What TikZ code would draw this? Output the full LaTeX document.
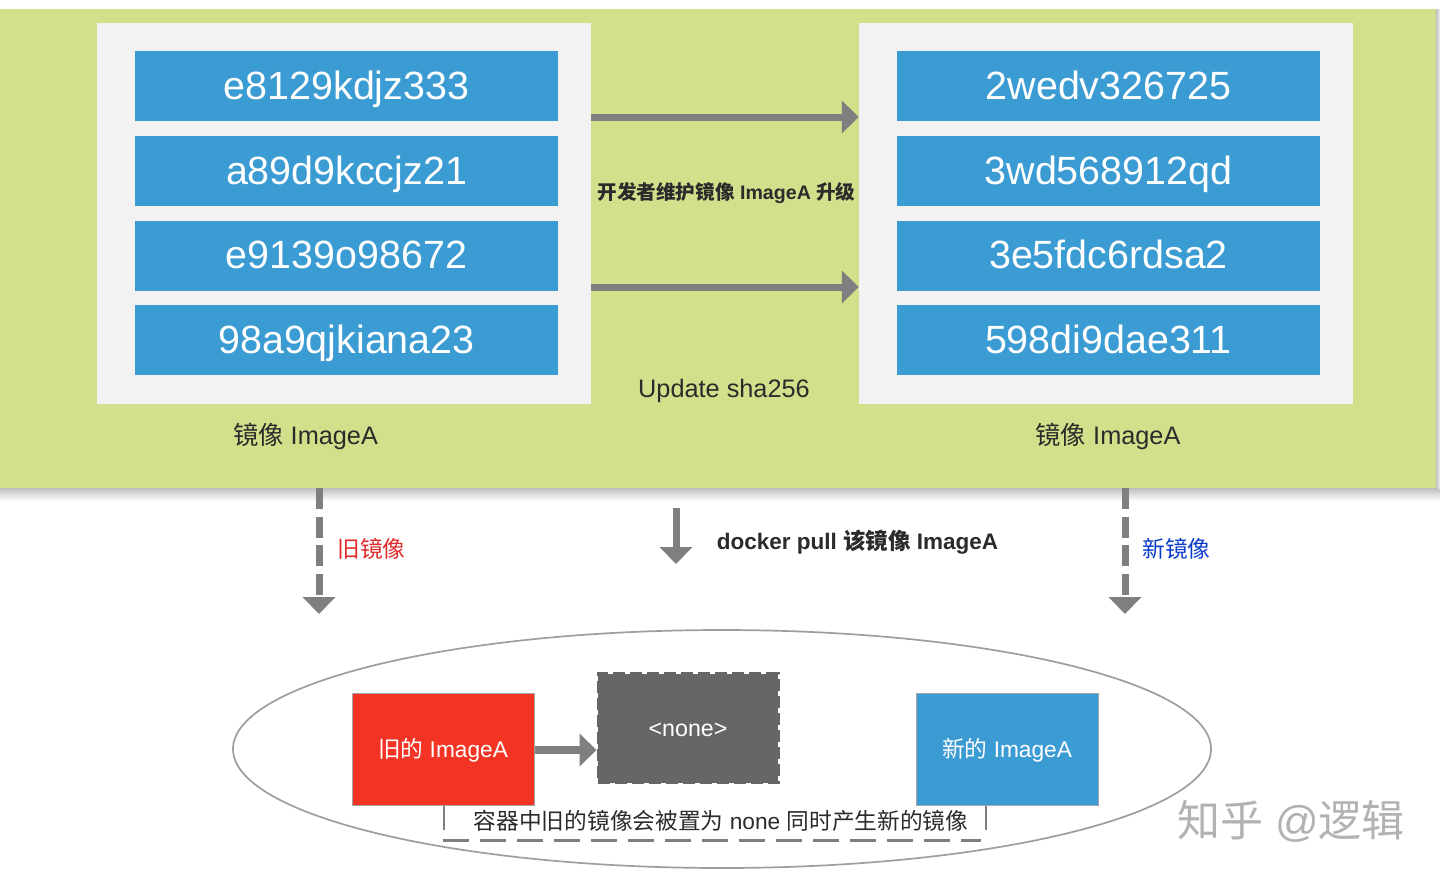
\documentclass[tikz,border=0pt]{standalone}
\usepackage{fontspec}
\setmainfont{Liberation Sans}
\newfontfamily\cjk{Noto Sans CJK SC}
\usetikzlibrary{arrows.meta,fadings}
\definecolor{greenbg}{HTML}{D3DF8B}
\definecolor{panelbg}{HTML}{F2F2F2}
\definecolor{rowblue}{HTML}{3B9BD3}
\definecolor{arrowgray}{HTML}{7F7F7F}
\definecolor{redbox}{HTML}{F33425}
\definecolor{nonegray}{HTML}{666666}
\definecolor{inktext}{HTML}{2B2B2B}
\definecolor{oldred}{HTML}{DF2A2A}
\definecolor{newblue}{HTML}{0B3DCB}
\tikzset{
  x=1pt,y=-1pt,
  panel/.style={rectangle,fill=panelbg,minimum width=494pt,minimum height=381pt,inner sep=0pt},
  rowbox/.style={rectangle,fill=rowblue,minimum width=423pt,minimum height=70pt,inner sep=0pt,text=white,text height=36pt,text depth=10pt,font=\fontsize{39.4}{40}\selectfont},
  label/.style={inner sep=0pt,text=inktext,text height=20pt,text depth=6pt,font=\fontsize{25.3}{30}\selectfont},
  boldlabel/.style={inner sep=0pt,text=inktext},
  smallbox/.style={rectangle,minimum width=182pt,minimum height=112pt,inner sep=0pt,draw=arrowgray!70,line width=1pt},
  boxtext/.style={inner sep=0pt,text=white,font=\fontsize{22.7}{26}\selectfont},
  bigarrow/.style={draw=arrowgray,line width=7pt,-{Triangle[length=17pt,width=32pt,fill=arrowgray]}},
  dasharrow/.style={bigarrow,dash pattern=on 21pt off 7.5pt},
  thinline/.style={draw=arrowgray,line width=2.5pt},
}
\begin{document}
\begin{tikzpicture}
\useasboundingbox (0,0) rectangle (1440,879);
\fill[white] (0,0) rectangle (1440,879);
% shadow + green band
\shade[top color=black!25,bottom color=white] (0,488) rectangle (1440,501);
\shade[left color=black!25,right color=white] (1436,9) rectangle (1441,488);
\node[rectangle,fill=greenbg,minimum width=1436pt,minimum height=479pt,inner sep=0pt] (band) at (718,248.5) {};
% panels
\node[panel] (pL) at (344,213.5) {};
\node[panel] (pR) at (1106,213.5) {};
% rows
\node[rowbox] (l1) at (346.5,86) {e8129kdjz333};
\node[rowbox] (l2) at (346.5,171) {a89d9kccjz21};
\node[rowbox] (l3) at (346.5,255.5) {e9139o98672};
\node[rowbox] (l4) at (346.5,340) {98a9qjkiana23};
\node[rowbox] (r1) at (1108.5,86) {2wedv326725};
\node[rowbox] (r2) at (1108.5,171) {3wd568912qd};
\node[rowbox] (r3) at (1108.5,255.5) {3e5fdc6rdsa2};
\node[rowbox] (r4) at (1108.5,340) {598di9dae311};
% horizontal arrows
\coordinate (a1) at (0,117); \coordinate (a2) at (0,287);
\draw[bigarrow] (pL.east |- a1) -- (pR.west |- a1);
\draw[bigarrow] (pL.east |- a2) -- (pR.west |- a2);
% band labels
\node[boldlabel,font=\fontsize{19.6}{24}\selectfont\bfseries] (upd) at (726.5,193) {{\cjk 开发者维护镜像} ImageA {\cjk 升级}};
\node[label] (sha) at (724,390.5) {Update sha256};
\node[label] (nameL) at (305.5,437) {{\cjk 镜像} ImageA};
\node[label] (nameR) at (1108,437) {{\cjk 镜像} ImageA};
% down arrows
\coordinate (d1s) at (319,488); \coordinate (d1e) at (319,614);
\coordinate (d2s) at (676,508); \coordinate (d2e) at (676,564);
\coordinate (d3s) at (1125,488); \coordinate (d3e) at (1125,614);
\draw[dasharrow] (d1s) -- (d1e);
\draw[bigarrow] (d2s) -- (d2e);
\draw[dasharrow] (d3s) -- (d3e);
\node[inner sep=0pt,text=oldred,font=\fontsize{22.7}{26}\selectfont\cjk] (oldl) at (371.5,549) {旧镜像};
\node[inner sep=0pt,text=newblue,font=\fontsize{22.7}{26}\selectfont\cjk] (newl) at (1176.5,549) {新镜像};
\node[boldlabel,font=\fontsize{22.5}{26}\selectfont\bfseries] (pull) at (857.5,542) {docker pull {\cjk 该镜像} ImageA};
% ellipse
\draw[draw=black!38,line width=1.7pt] (722,749) ellipse [x radius=489,y radius=119];
% boxes
\node[smallbox,fill=redbox] (old) at (443,749) {};
\node[boxtext] (oldt) at (443,750.5) {{\cjk 旧的} ImageA};
\node[smallbox,fill=nonegray,draw=nonegray,dash pattern=on 12pt off 5pt,line width=3pt,minimum width=180pt,minimum height=109pt] (none) at (688,728) {};
\node[boxtext,font=\fontsize{23.2}{26}\selectfont] (nonet) at (688,729.5) {<none>};
\node[smallbox,fill=rowblue] (new) at (1007,749) {};
\node[boxtext] (newt) at (1007,750.5) {{\cjk 新的} ImageA};
\coordinate (oldto) at (0,750);
\draw[bigarrow,line width=8pt] (old.east |- oldto) -- (none.west |- oldto);
% bracket
\coordinate (bl) at (444,830); \coordinate (br) at (986,830);
\coordinate (dl) at (443,840); \coordinate (dr) at (981,840);
\draw[thinline] (bl |- old.south) -- (bl);
\draw[thinline] (br |- new.south) -- (br);
\draw[draw=arrowgray,line width=3pt,dash pattern=on 25.5pt off 11.5pt] (dl) -- (dr);
\node[inner sep=0pt,text=inktext,font=\fontsize{22.7}{26}\selectfont] (cap) at (721,821) {{\cjk 容器中旧的镜像会被置为} none {\cjk 同时产生新的镜像}};
% watermark
\node[inner sep=0pt,text=black!30,font=\fontsize{43}{44}\selectfont] (wm) at (1291,821) {{\cjk 知乎} @{\cjk 逻辑}};
\end{tikzpicture}
\end{document}
